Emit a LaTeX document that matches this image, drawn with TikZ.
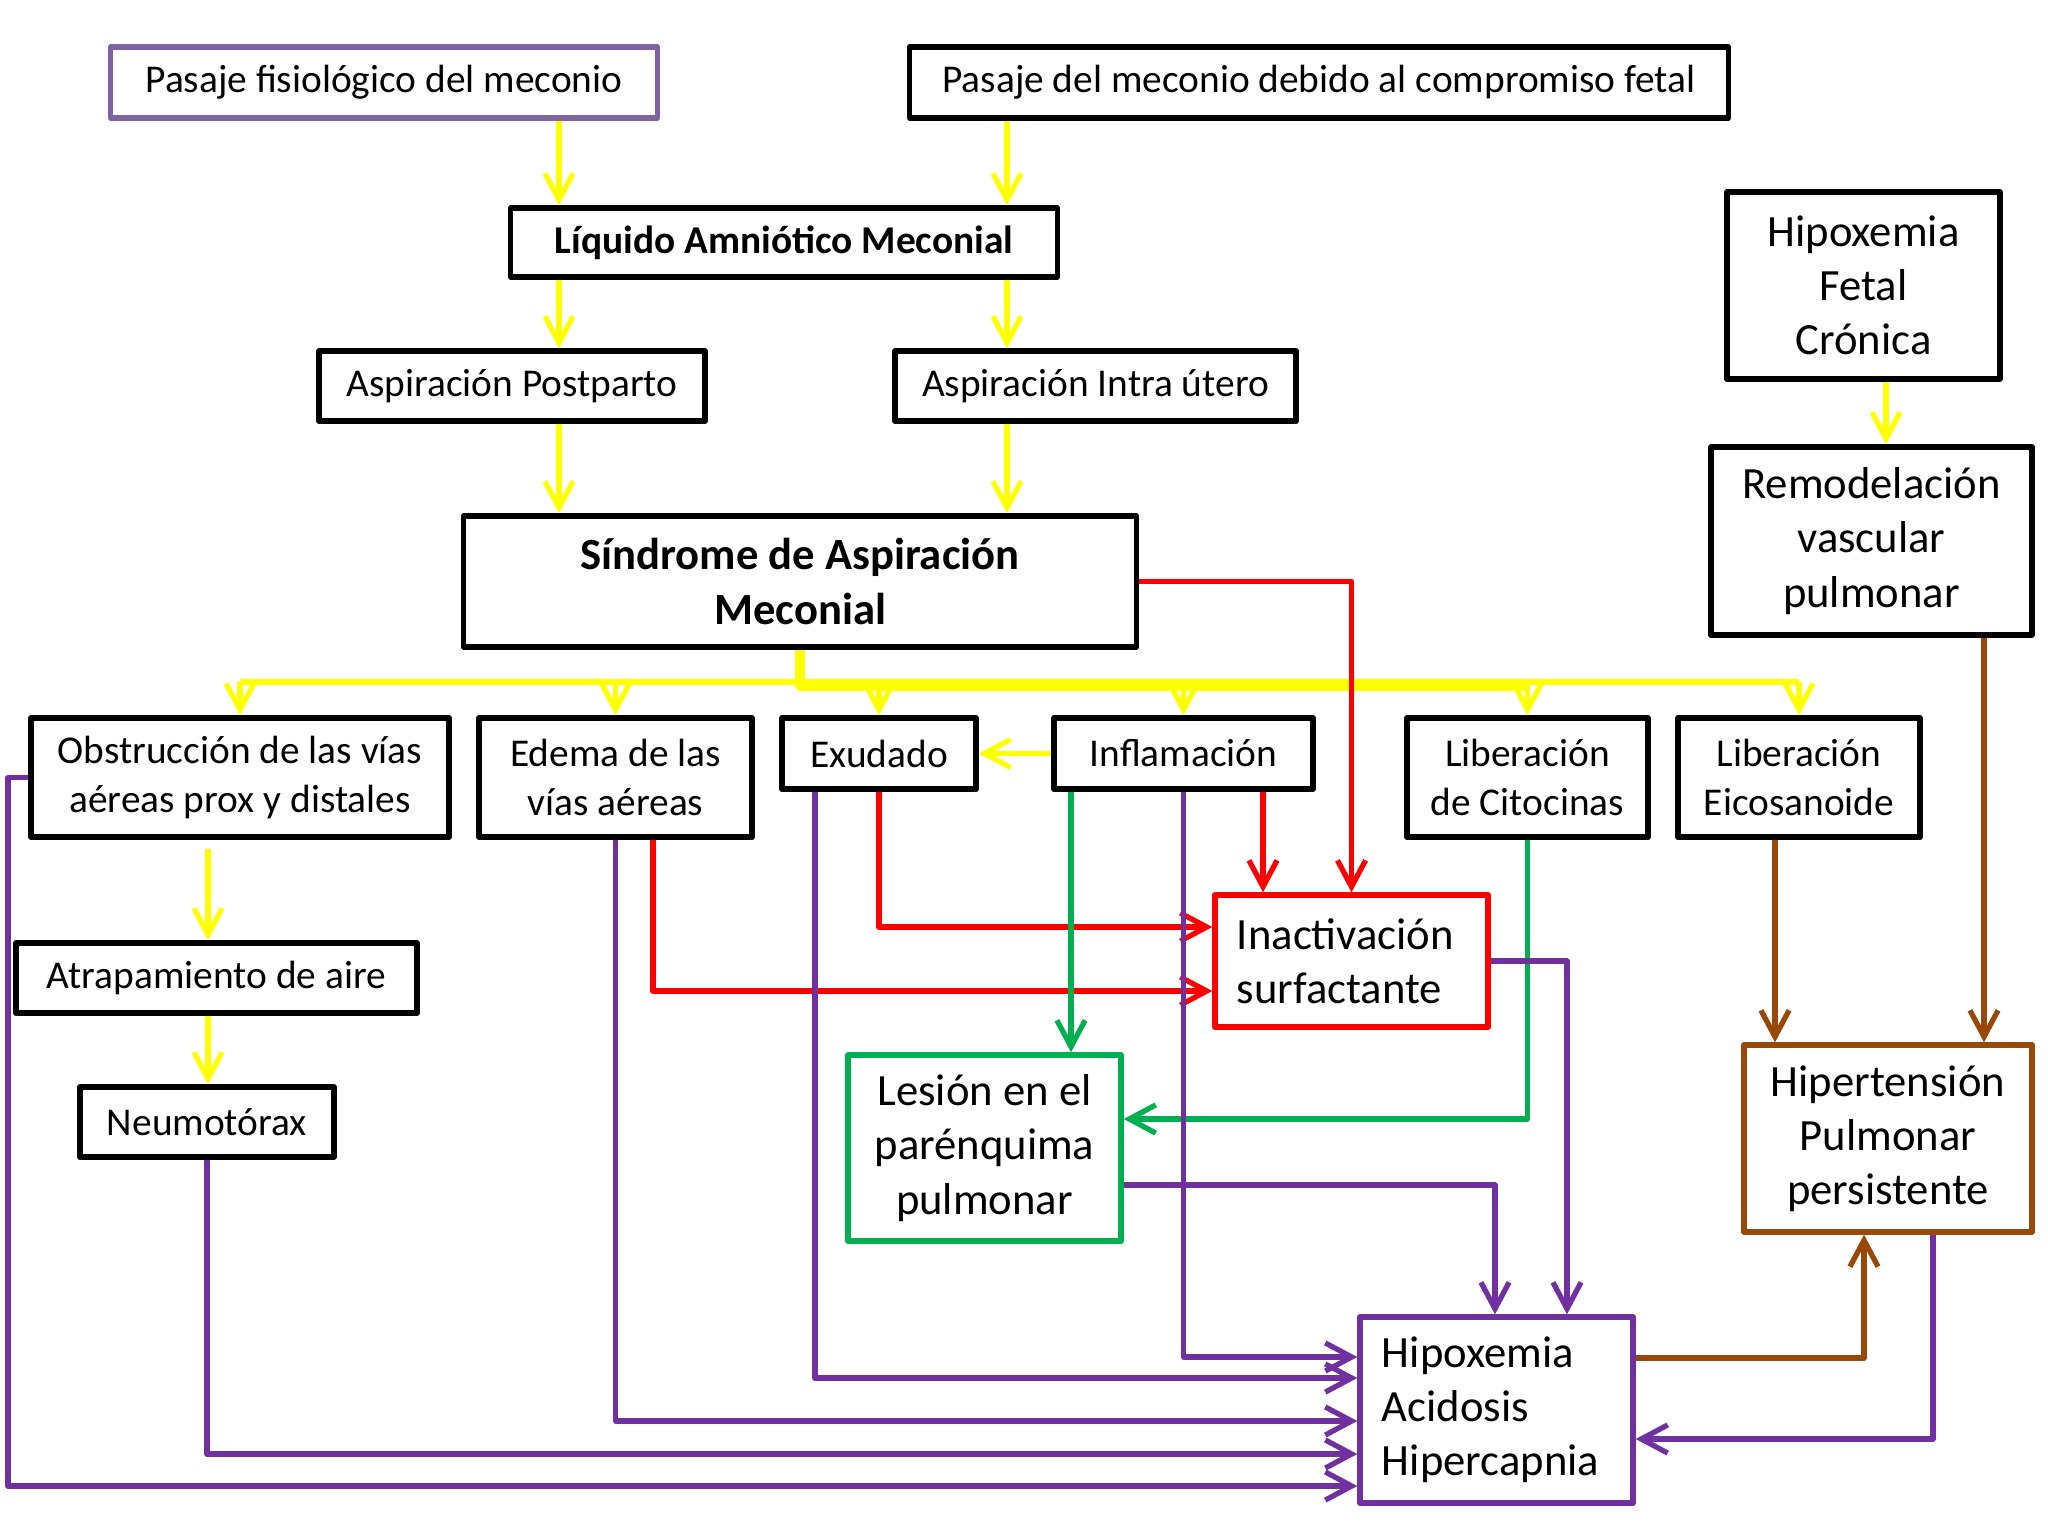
\documentclass[tikz,border=0pt]{standalone}
\usepackage{fontspec}
\setmainfont{Carlito}
\usetikzlibrary{arrows.meta}
\definecolor{arrowYellow}{RGB}{255,255,0}
\definecolor{linkPurple}{RGB}{112,48,160}
\definecolor{linkRed}{RGB}{255,0,0}
\definecolor{linkGreen}{RGB}{0,176,80}
\definecolor{linkBrown}{RGB}{152,72,7}
\definecolor{boxLavender}{RGB}{128,100,162}

\begin{document}
\begin{tikzpicture}[x=0.01cm,y=-0.01cm,line join=round,
  box/.style={draw=black,line width=1.5pt,fill=white,inner sep=0pt,align=center,
    font=\fontsize{11.2}{13.7}\selectfont},
  bigbox/.style={box,font=\fontsize{12.7}{15.4}\selectfont},
  link/.style={line width=1.5pt,-{Straight Barb[length=7.5pt,width=8pt]}},
  ylink/.style={link,arrowYellow},
  rlink/.style={link,linkRed},
  glink/.style={link,linkGreen},
  plink/.style={link,linkPurple},
  blink/.style={link,linkBrown}]

% fixed canvas, 2048 x 1536 px
\path[use as bounding box,fill=white] (0,0) rectangle (2048,1536);

% guide columns and rows for the connectors
\coordinate (colL) at (559,0);
\coordinate (colR) at (1007,0);
\coordinate (colHF) at (1886,0);
\coordinate (bus) at (0,682);
\coordinate (busLow) at (0,686);
\coordinate (obsOut) at (208,849);
\coordinate (colInf) at (1263,0);
\coordinate (colEd) at (653,0);
\coordinate (redA) at (0,927);
\coordinate (redB) at (0,991);
\coordinate (colG) at (1071,0);
\coordinate (greenY) at (0,1119);
\coordinate (leftRail) at (8,0);
\coordinate (colEx) at (815,0);
\coordinate (rowA1) at (0,1357);
\coordinate (rowA2) at (0,1378);
\coordinate (rowB) at (0,1421);
\coordinate (rowC) at (0,1454);
\coordinate (rowD) at (0,1486);
\coordinate (rowLes) at (0,1185);
\coordinate (colLes) at (1495,0);
\coordinate (colIn) at (1567,0);
\coordinate (colHi) at (1933,0);
\coordinate (rowHi) at (0,1439);
\coordinate (colEi) at (1775,0);
\coordinate (colRe) at (1984,0);
\coordinate (rowBr) at (0,1358);
\coordinate (colBr) at (1864,0);

% top chain
\node[box,draw=boxLavender,minimum width=5.46cm,minimum height=0.71cm] (pasFis) at (384,82.5) {Pasaje fisiológico del meconio};
\node[box,minimum width=8.18cm,minimum height=0.71cm] (pasFetal) at (1319,82.5) {Pasaje del meconio debido al compromiso fetal};
\node[box,font=\fontsize{11.2}{13.7}\selectfont\bfseries,minimum width=5.46cm,minimum height=0.69cm] (liquido) at (784,242.5) {Líquido Amniótico Meconial};
\node[box,minimum width=3.86cm,minimum height=0.70cm] (aspPost) at (512,386) {Aspiración Postparto};
\node[box,minimum width=4.01cm,minimum height=0.70cm] (aspUtero) at (1095.5,386) {Aspiración Intra útero};
\node[bigbox,font=\fontsize{12.7}{15.4}\selectfont\bfseries,minimum width=6.72cm,minimum height=1.31cm] (sam) at (800,581.5) {Síndrome de Aspiración\\Meconial};

% right column
\node[bigbox,minimum width=2.73cm,minimum height=1.87cm] (hipoFetal) at (1863.5,285.5) {Hipoxemia\\Fetal\\Crónica};
\node[bigbox,minimum width=3.21cm,minimum height=1.88cm] (remod) at (1871.5,541) {Remodelación\\vascular\\pulmonar};

% mechanisms row
\node[box,minimum width=4.18cm,minimum height=1.19cm] (obstr) at (240,777.5) {Obstrucción de las vías\\aéreas prox y distales};
\node[box,minimum width=2.73cm,minimum height=1.19cm] (edema) at (615.5,777.5) {Edema de las\\vías aéreas};
\node[box,minimum width=1.94cm,minimum height=0.71cm] (exud) at (879,753.5) {Exudado};
\node[box,minimum width=2.59cm,minimum height=0.71cm] (infl) at (1183.5,753.5) {Inflamación};
\node[box,minimum width=2.41cm,minimum height=1.19cm] (cito) at (1527.5,777.5) {Liberación\\de Citocinas};
\node[box,minimum width=2.42cm,minimum height=1.19cm] (eico) at (1799,777.5) {Liberación\\Eicosanoide};

% consequences
\node[box,minimum width=4.01cm,minimum height=0.70cm] (atrap) at (216.5,978) {Atrapamiento de aire};
\node[box,minimum width=2.54cm,minimum height=0.70cm] (neumo) at (207,1122) {Neumotórax};
\node[bigbox,draw=linkRed,inner xsep=0.22cm,text width=2.29cm,align=left,minimum height=1.32cm] (inact) at (1351.5,961) {Inactivación\\surfactante};
\node[bigbox,draw=linkGreen,minimum width=2.73cm,minimum height=1.86cm] (lesion) at (984.5,1148) {Lesión en el\\parénquima\\pulmonar};
\node[bigbox,draw=linkBrown,minimum width=2.88cm,minimum height=1.87cm] (hiper) at (1888,1138.5) {Hipertensión\\Pulmonar\\persistente};
\node[bigbox,draw=linkPurple,inner xsep=0.22cm,text width=2.29cm,align=left,minimum height=1.86cm] (hipox) at (1496.5,1410) {Hipoxemia\\Acidosis\\Hipercapnia};

% yellow: meconium chain
\draw[ylink] (pasFis.south -| colL) -- (liquido.north -| colL);
\draw[ylink] (pasFetal.south -| colR) -- (liquido.north -| colR);
\draw[ylink] (liquido.south -| colL) -- (aspPost.north -| colL);
\draw[ylink] (liquido.south -| colR) -- (aspUtero.north -| colR);
\draw[ylink] (aspPost.south -| colL) -- (sam.north -| colL);
\draw[ylink] (aspUtero.south -| colR) -- (sam.north -| colR);
\draw[ylink] (hipoFetal.south -| colHF) -- (remod.north -| colHF);

% yellow: distribution bus
\draw[arrowYellow,line width=1.6pt] (obstr.north |- bus) -- (eico.north |- bus);
\draw[arrowYellow,line width=2.8pt] (sam.south) -- (sam.south |- busLow) -- (cito.north |- busLow);
\foreach \n in {obstr,edema,exud,infl,cito,eico}
  \draw[ylink] (\n.north |- bus) -- (\n.north);
\draw[ylink] (infl.west) -- (exud.east);
\draw[ylink] (obsOut) -- (atrap.north -| obsOut);
\draw[ylink] (atrap.south -| obsOut) -- (neumo.north -| obsOut);

% red: surfactant
\draw[rlink] (sam.east) -| (inact.north);
\draw[rlink] (infl.south -| colInf) -- (inact.north -| colInf);
\draw[rlink] (exud.south) |- (inact.west |- redA);
\draw[rlink] (edema.south -| colEd) |- (inact.west |- redB);

% green: parenchyma
\draw[glink] (infl.south -| colG) -- (lesion.north -| colG);
\draw[glink] (cito.south) |- (lesion.east |- greenY);

% purple: gas exchange
\draw[plink] (obstr.west) -- (obstr.west -| leftRail) |- (hipox.west |- rowD);
\draw[plink] (neumo.south) |- (hipox.west |- rowC);
\draw[plink] (edema.south) |- (hipox.west |- rowB);
\draw[plink] (exud.south -| colEx) |- (hipox.west |- rowA2);
\draw[plink] (infl.south) |- (hipox.west |- rowA1);
\draw[plink] (lesion.east |- rowLes) -| (hipox.north -| colLes);
\draw[plink] (inact.east) -| (hipox.north -| colIn);
\draw[plink] (hiper.south -| colHi) |- (hipox.east |- rowHi);

% brown: pulmonary hypertension
\draw[blink] (eico.south -| colEi) -- (hiper.north -| colEi);
\draw[blink] (remod.south -| colRe) -- (hiper.north -| colRe);
\draw[blink] (hipox.east |- rowBr) -| (hiper.south -| colBr);

\end{tikzpicture}
\end{document}
